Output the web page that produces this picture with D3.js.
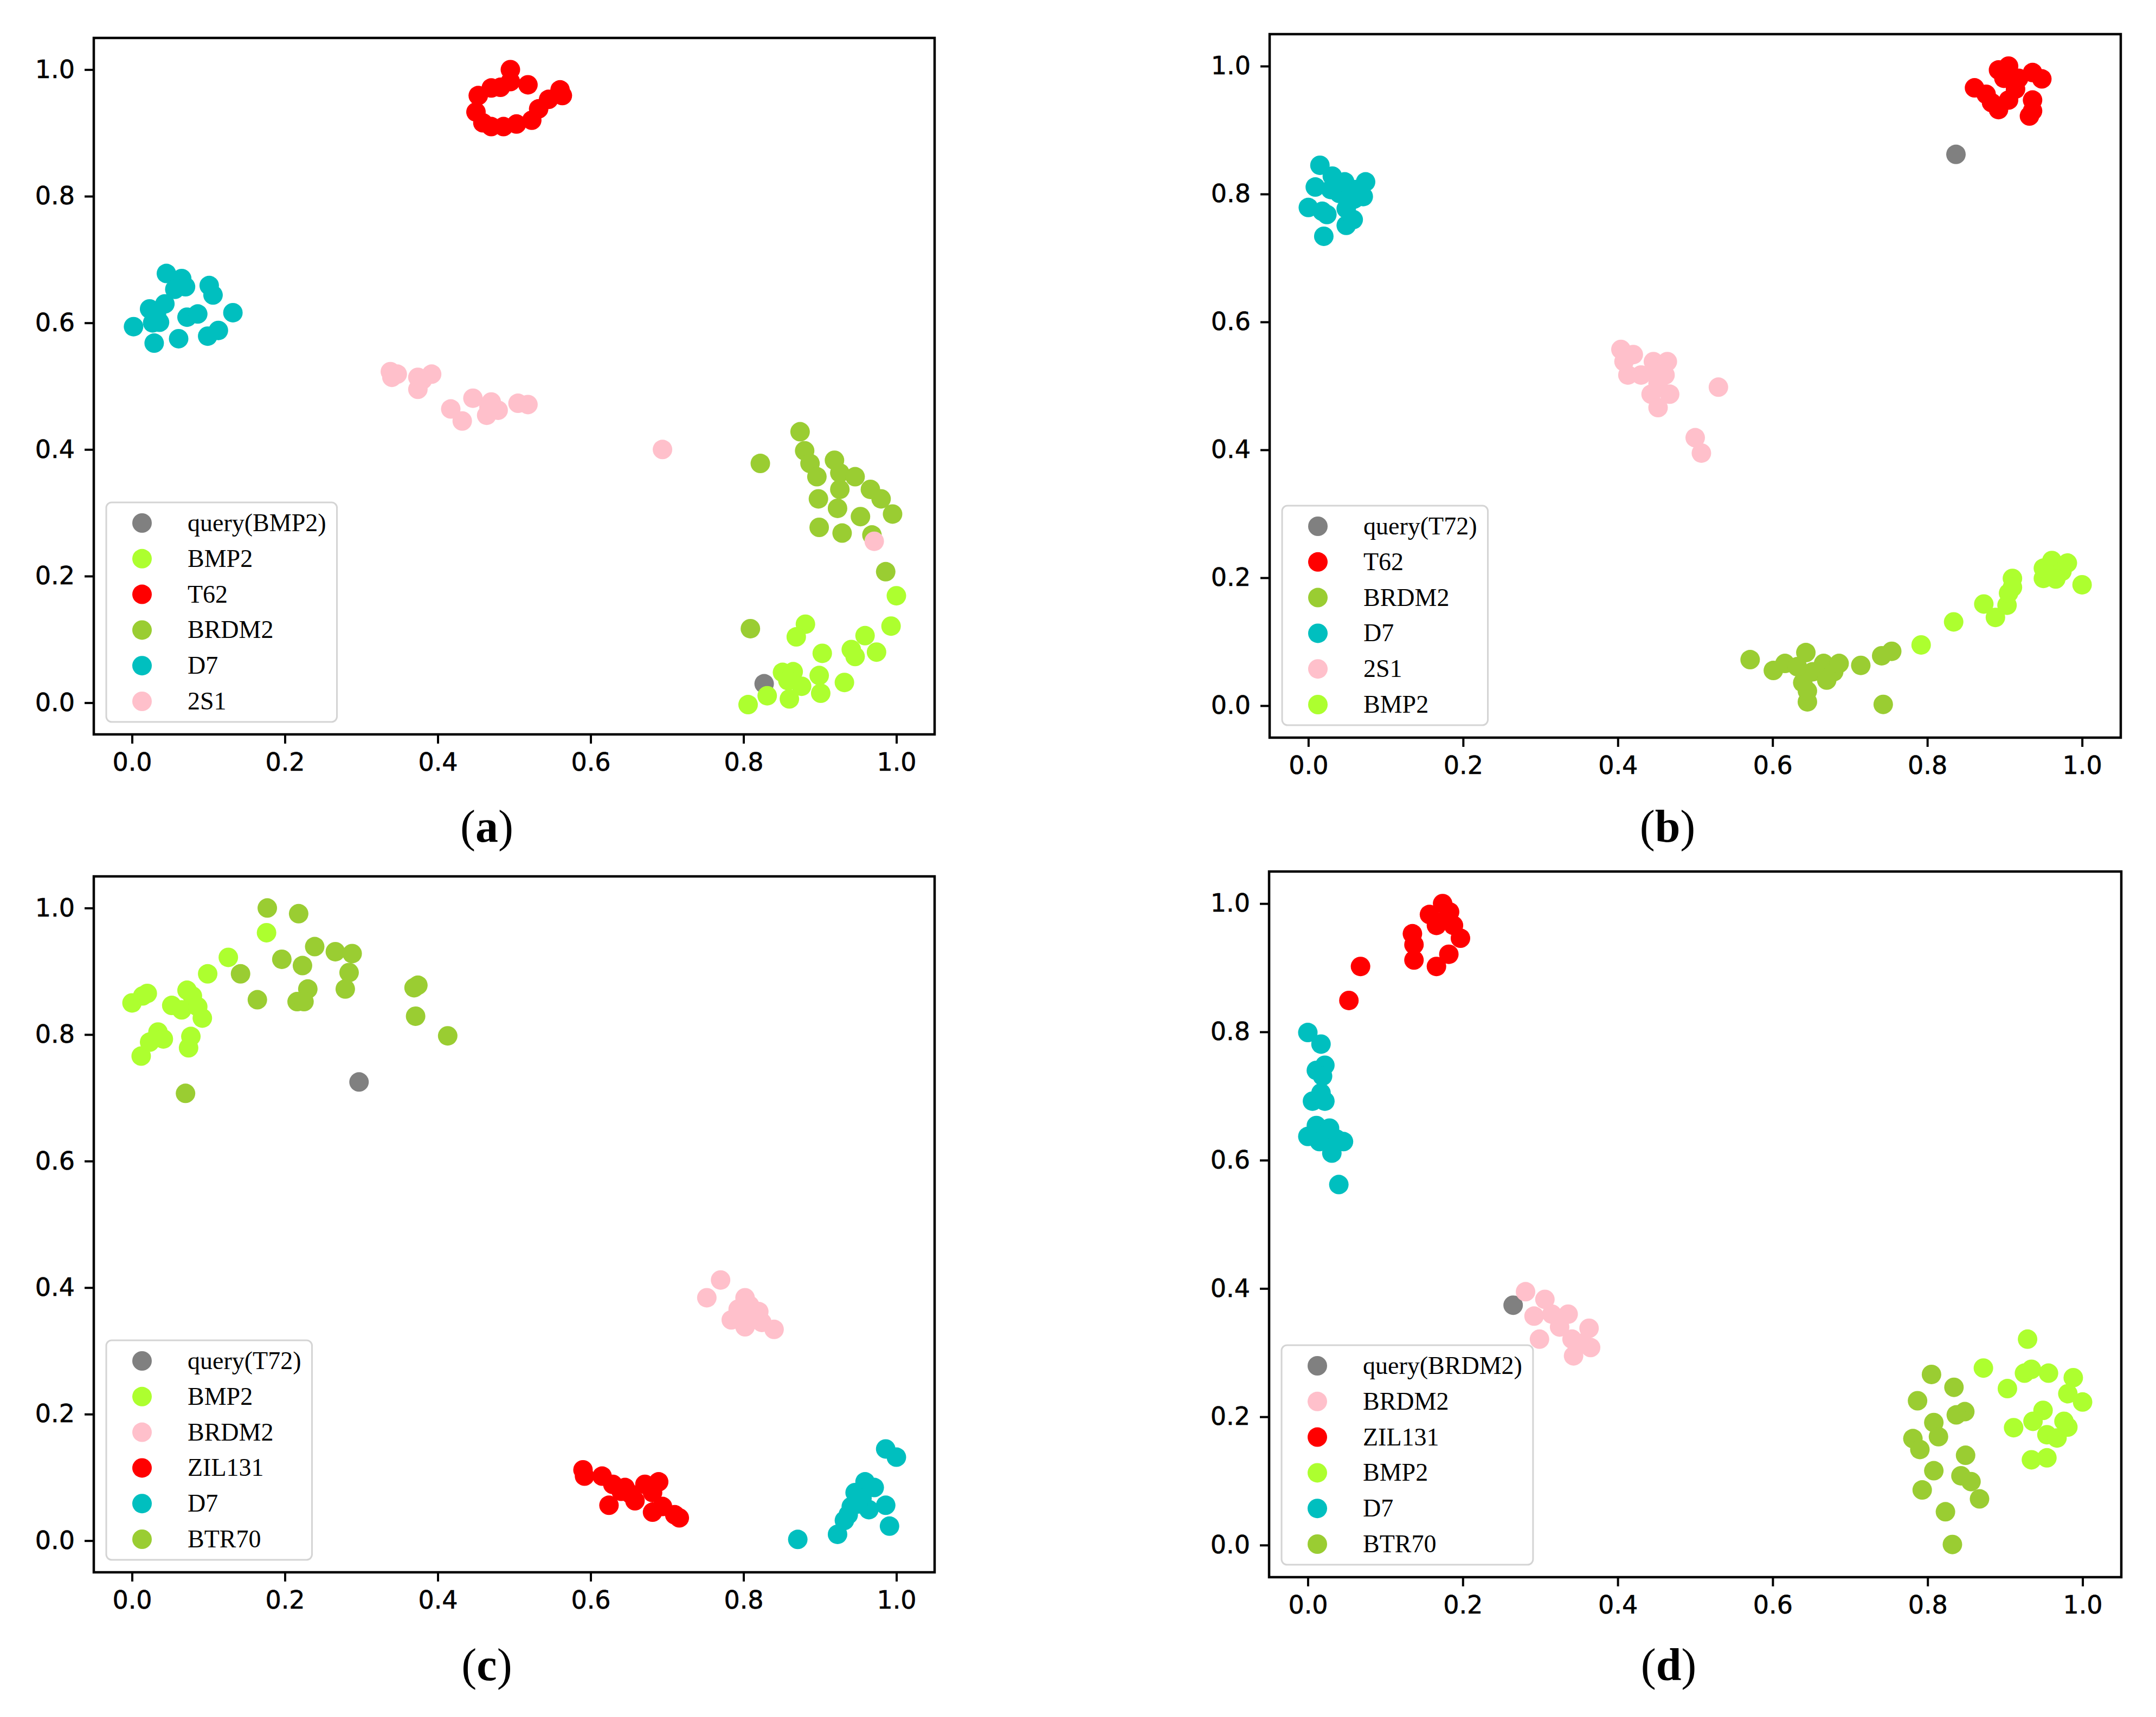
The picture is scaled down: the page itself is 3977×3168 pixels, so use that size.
<!DOCTYPE html>
<html>
<head>
<meta charset="utf-8">
<script src="https://cdn.jsdelivr.net/npm/d3@7"></script>
<style>
  body { margin: 0; background: #fff; }
  .tick text { font-family: "DejaVu Sans", sans-serif; font-size: 46px; fill: #000; stroke: #000; stroke-width: 0.6; }
  .tick line { stroke: #000; stroke-width: 4; }
  .legtext { font-family: "Liberation Serif", "Times New Roman", serif; font-size: 46px; fill: #000; }
  .panlabel { font-family: "Liberation Serif", "Times New Roman", serif; font-size: 84px; fill: #000; }
</style>
</head>
<body>
<div id="fig"></div>
<script>
var width = 3977;
var height = 3168;

// ---- data ----
// panel (a)
var aNames = ["query(BMP2)", "BMP2", "T62", "BRDM2", "D7", "2S1"];
var aColors = ["#808080", "#adff2f", "#ff0000", "#9acd32", "#00bfbf", "#ffc0cb"];
var aQuery = [[0.827, 0.030]];
var aBMP2 = [[1.0,0.169],[0.993,0.121],[0.959,0.106],[0.974,0.080],[0.941,0.084],[0.946,0.073],[0.903,0.078],[0.932,0.032],[0.881,0.124],[0.869,0.104],[0.851,0.048],[0.865,0.049],[0.876,0.026],[0.860,0.006],[0.831,0.011],[0.806,-0.003],[0.899,0.043],[0.901,0.015],[0.858,0.035]];
var aT62 = [[0.495,1.0],[0.495,0.981],[0.518,0.976],[0.470,0.971],[0.453,0.959],[0.450,0.933],[0.459,0.916],[0.470,0.910],[0.486,0.910],[0.503,0.914],[0.523,0.920],[0.532,0.938],[0.545,0.953],[0.560,0.968],[0.563,0.959],[0.482,0.972]];
var aBRDM2 = [[0.874,0.428],[0.822,0.378],[0.880,0.398],[0.887,0.378],[0.896,0.357],[0.919,0.383],[0.926,0.363],[0.946,0.357],[0.966,0.337],[0.980,0.322],[0.995,0.298],[0.898,0.322],[0.926,0.337],[0.923,0.307],[0.953,0.294],[0.968,0.265],[0.899,0.277],[0.929,0.268],[0.986,0.207],[0.809,0.117]];
var aD7 = [[0.002,0.594],[0.023,0.622],[0.029,0.568],[0.036,0.601],[0.032,0.614],[0.045,0.678],[0.043,0.630],[0.061,0.575],[0.065,0.670],[0.072,0.609],[0.086,0.614],[0.070,0.657],[0.101,0.659],[0.106,0.644],[0.099,0.579],[0.113,0.588],[0.132,0.616],[0.056,0.653],[0.027,0.600]];
var a2S1 = [[0.338,0.523],[0.347,0.519],[0.340,0.514],[0.374,0.514],[0.374,0.495],[0.392,0.519],[0.380,0.510],[0.417,0.464],[0.432,0.445],[0.446,0.481],[0.464,0.454],[0.470,0.475],[0.479,0.462],[0.467,0.467],[0.505,0.473],[0.518,0.471],[0.694,0.400],[0.971,0.255]];

// panel (b)
var bNames = ["query(T72)", "T62", "BRDM2", "D7", "2S1", "BMP2"];
var bColors = ["#808080", "#ff0000", "#9acd32", "#00bfbf", "#ffc0cb", "#adff2f"];
var bQuery = [[0.837, 0.862]];
var bT62 = [[0.861,0.966],[0.876,0.956],[0.892,0.994],[0.905,1.0],[0.899,0.981],[0.892,0.932],[0.905,0.947],[0.918,0.981],[0.936,0.990],[0.948,0.980],[0.936,0.947],[0.932,0.922],[0.914,0.964],[0.883,0.943],[0.936,0.930]];
var bBRDM2 = [[0.571,0.072],[0.601,0.055],[0.616,0.066],[0.643,0.083],[0.639,0.036],[0.645,0.006],[0.652,0.053],[0.666,0.066],[0.670,0.040],[0.679,0.053],[0.686,0.066],[0.714,0.063],[0.741,0.078],[0.754,0.085],[0.743,0.002],[0.645,0.023],[0.632,0.061]];
var bD7 = [[0.015,0.845],[0.009,0.811],[0.0,0.779],[0.018,0.773],[0.020,0.734],[0.031,0.828],[0.029,0.807],[0.047,0.819],[0.049,0.777],[0.049,0.751],[0.058,0.760],[0.059,0.792],[0.074,0.819],[0.071,0.796],[0.040,0.801],[0.024,0.768],[0.035,0.815],[0.062,0.807]];
var b2S1 = [[0.404,0.557],[0.420,0.549],[0.413,0.517],[0.430,0.517],[0.446,0.538],[0.464,0.538],[0.461,0.517],[0.452,0.521],[0.443,0.487],[0.452,0.466],[0.467,0.487],[0.530,0.498],[0.500,0.419],[0.508,0.395],[0.452,0.504],[0.408,0.538]];
var bBMP2 = [[0.792,0.095],[0.834,0.131],[0.873,0.159],[0.888,0.138],[0.903,0.157],[0.905,0.176],[0.910,0.199],[0.910,0.185],[0.950,0.199],[0.961,0.227],[0.974,0.210],[0.981,0.223],[1.0,0.189],[0.950,0.215],[0.966,0.198]];

// panel (c)
var cNames = ["query(T72)", "BMP2", "BRDM2", "ZIL131", "D7", "BTR70"];
var cColors = ["#808080", "#adff2f", "#ffc0cb", "#ff0000", "#00bfbf", "#9acd32"];
var cQuery = [[0.297, 0.725]];
var cBMP2 = [[0.0,0.850],[0.014,0.861],[0.020,0.865],[0.012,0.766],[0.023,0.788],[0.034,0.804],[0.041,0.793],[0.052,0.846],[0.065,0.839],[0.072,0.870],[0.079,0.861],[0.086,0.844],[0.092,0.826],[0.077,0.797],[0.074,0.779],[0.099,0.896],[0.126,0.922],[0.176,0.961]];
var cBRDM2 = [[0.752,0.384],[0.770,0.412],[0.802,0.384],[0.793,0.366],[0.820,0.362],[0.784,0.349],[0.802,0.338],[0.840,0.334],[0.824,0.345],[0.811,0.354],[0.797,0.358],[0.808,0.372]];
var cZIL131 = [[0.590,0.112],[0.592,0.102],[0.615,0.102],[0.629,0.089],[0.624,0.056],[0.645,0.084],[0.652,0.074],[0.658,0.063],[0.671,0.089],[0.681,0.076],[0.689,0.093],[0.681,0.045],[0.694,0.054],[0.716,0.036],[0.710,0.041],[0.640,0.078]];
var cD7 = [[0.871,0.002],[0.923,0.010],[0.932,0.032],[0.941,0.054],[0.946,0.076],[0.959,0.093],[0.971,0.084],[0.955,0.067],[0.964,0.049],[0.986,0.056],[0.991,0.023],[0.986,0.145],[1.0,0.132],[0.937,0.041],[0.950,0.058]];
var cBTR70 = [[0.177,1.0],[0.218,0.991],[0.239,0.939],[0.196,0.919],[0.223,0.909],[0.266,0.931],[0.288,0.928],[0.284,0.898],[0.279,0.872],[0.230,0.872],[0.216,0.852],[0.225,0.852],[0.164,0.855],[0.142,0.896],[0.374,0.878],[0.369,0.874],[0.371,0.829],[0.413,0.798],[0.070,0.707]];

// panel (d)
var dNames = ["query(BRDM2)", "BRDM2", "ZIL131", "BMP2", "D7", "BTR70"];
var dColors = ["#808080", "#ffc0cb", "#ff0000", "#adff2f", "#00bfbf", "#9acd32"];
var dQuery = [[0.265, 0.374]];
var dBRDM2 = [[0.281,0.395],[0.306,0.383],[0.292,0.357],[0.315,0.360],[0.299,0.321],[0.336,0.360],[0.341,0.321],[0.343,0.295],[0.363,0.338],[0.365,0.308],[0.355,0.315],[0.325,0.340]];
var dZIL131 = [[0.174,1.0],[0.157,0.983],[0.183,0.987],[0.166,0.966],[0.135,0.953],[0.137,0.936],[0.137,0.912],[0.166,0.902],[0.182,0.921],[0.188,0.966],[0.197,0.946],[0.068,0.902],[0.053,0.849],[0.178,0.975]];
var dBMP2 = [[0.872,0.276],[0.903,0.244],[0.929,0.321],[0.925,0.268],[0.934,0.274],[0.956,0.268],[0.988,0.261],[0.981,0.236],[1.0,0.223],[0.949,0.210],[0.936,0.193],[0.911,0.183],[0.954,0.172],[0.967,0.167],[0.981,0.184],[0.976,0.193],[0.934,0.133],[0.954,0.136]];
var dD7 = [[0.0,0.799],[0.017,0.781],[0.011,0.740],[0.022,0.748],[0.019,0.731],[0.006,0.692],[0.017,0.705],[0.022,0.692],[0.011,0.654],[0.0,0.637],[0.019,0.641],[0.028,0.650],[0.031,0.611],[0.037,0.633],[0.046,0.629],[0.040,0.562],[0.015,0.629]];
var dBTR70 = [[0.805,0.266],[0.787,0.225],[0.834,0.246],[0.848,0.208],[0.837,0.203],[0.808,0.191],[0.781,0.166],[0.790,0.149],[0.814,0.169],[0.808,0.116],[0.793,0.086],[0.823,0.052],[0.832,0.001],[0.849,0.140],[0.843,0.108],[0.856,0.099],[0.867,0.072]];

var tickVals = [0, 0.2, 0.4, 0.6, 0.8, 1.0];

// ---- layout of the four panels (pixel boxes of the axes) ----
var panels = [
  {tag: "a", names: aNames, colors: aColors, series: [aQuery, aBMP2, aT62, aBRDM2, aD7, a2S1],
   left: 173, right: 1724, top: 70, bottom: 1355, lx: 898, ly: 1553},
  {tag: "b", names: bNames, colors: bColors, series: [bQuery, bT62, bBRDM2, bD7, b2S1, bBMP2],
   left: 2342, right: 3912, top: 63, bottom: 1361, lx: 3076, ly: 1553},
  {tag: "c", names: cNames, colors: cColors, series: [cQuery, cBMP2, cBRDM2, cZIL131, cD7, cBTR70],
   left: 173, right: 1724, top: 1617, bottom: 2901, lx: 898, ly: 3100},
  {tag: "d", names: dNames, colors: dColors, series: [dQuery, dBRDM2, dZIL131, dBMP2, dD7, dBTR70],
   left: 2341, right: 3913, top: 1608, bottom: 2910, lx: 3078, ly: 3100}
];

var svg = d3.select("#fig")
            .append("svg")
            .attr("width", width)
            .attr("height", height);

svg.append("rect").attr("width", width).attr("height", height).attr("fill", "#fff");

panels.forEach(function(p){
  var xScale = d3.scaleLinear().domain([-0.05, 1.05]).range([p.left, p.right]);
  var yScale = d3.scaleLinear().domain([-0.05, 1.05]).range([p.bottom, p.top]);
  var g = svg.append("g").attr("class", "panel-" + p.tag);

  // points, drawn in legend order
  p.series.forEach(function(s, i){
    g.append("g")
      .selectAll("circle")
      .data(s)
      .enter()
      .append("circle")
      .attr("cx", function(d){ return xScale(d[0]); })
      .attr("cy", function(d){ return yScale(d[1]); })
      .attr("r", 18)
      .attr("fill", p.colors[i]);
  });

  var xAxis = d3.axisBottom(xScale).tickValues(tickVals).tickFormat(d3.format(".1f"))
                .tickSize(17).tickPadding(17).tickSizeOuter(0);
  var yAxis = d3.axisLeft(yScale).tickValues(tickVals).tickFormat(d3.format(".1f"))
                .tickSize(17).tickPadding(18).tickSizeOuter(0);

  var gx = g.append("g").attr("transform", "translate(0," + p.bottom + ")").call(xAxis);
  var gy = g.append("g").attr("transform", "translate(" + p.left + ",0)").call(yAxis);
  gx.select(".domain").remove();
  gy.select(".domain").remove();
  gx.attr("font-family", null).attr("font-size", null);
  gy.attr("font-family", null).attr("font-size", null);

  // frame
  g.append("rect")
    .attr("x", p.left).attr("y", p.top)
    .attr("width", p.right - p.left).attr("height", p.bottom - p.top)
    .attr("fill", "none").attr("stroke", "#000").attr("stroke-width", 4.5);

  // legend, lower left
  var leg = g.append("g");
  var rowH = 65.8;
  var legH = 38 * 2 + rowH * (p.names.length - 1);
  var lx0 = p.left + 23;
  var ly0 = p.bottom - 23 - legH;
  var box = leg.append("rect")
    .attr("x", lx0).attr("y", ly0)
    .attr("height", legH)
    .attr("rx", 10).attr("ry", 10)
    .attr("fill", "#fff").attr("fill-opacity", 0.8)
    .attr("stroke", "#d4d4d4").attr("stroke-width", 3);
  var maxW = 0;
  p.names.forEach(function(name, i){
    var cy = ly0 + 38 + i * rowH;
    leg.append("circle")
      .attr("cx", lx0 + 66).attr("cy", cy).attr("r", 18)
      .attr("fill", p.colors[i]);
    var t = leg.append("text")
      .attr("class", "legtext")
      .attr("x", lx0 + 150).attr("y", cy + 15)
      .text(name);
    maxW = Math.max(maxW, t.node().getComputedTextLength());
  });
  box.attr("width", 150 + maxW + 20);

  // panel label (a), (b) ...
  var lab = g.append("text")
    .attr("class", "panlabel")
    .attr("x", p.lx).attr("y", p.ly)
    .attr("text-anchor", "middle");
  lab.append("tspan").text("(");
  lab.append("tspan").attr("font-weight", "bold").text(p.tag);
  lab.append("tspan").text(")");
});
</script>
</body>
</html>
